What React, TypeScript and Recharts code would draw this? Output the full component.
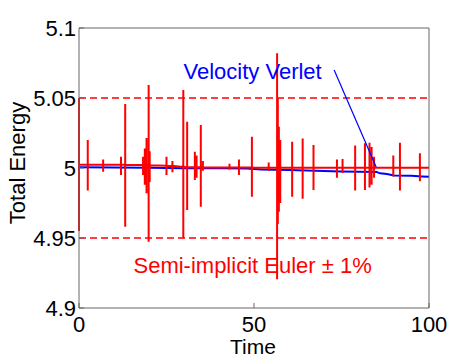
import React from 'react';
import { LineChart, Line, XAxis, YAxis, ReferenceLine, ReferenceDot, Label } from 'recharts';

// Axis ticks
const timeTicks = [0, 50, 100];
const energyTicks = [4.9, 4.95, 5, 5.05, 5.1];
// ±1% band around the initial energy of 5
const bandLimits = [4.95, 5.05];

// Velocity Verlet: slow drift of the total energy
const verletTime = [0, 10, 20, 30, 40, 48, 52, 56, 60, 65, 70, 75, 80, 85, 86, 88, 90, 95, 98, 100];
const verletEnergy = [5.0005, 5.0003, 5.0001, 4.9999, 4.9998, 4.9996, 4.9990, 4.9987, 4.9985, 4.9982, 4.9978, 4.9975, 4.9974, 4.9972, 4.9962, 4.9957, 4.9947, 4.9944, 4.9940, 4.9938];

// Semi-implicit Euler: energy bursts (time, local level, peak, trough)
const eulerSpikeTime = [0, 2.5, 6.9, 12.0, 13.2, 18.3, 18.8, 19.3, 19.9, 20.2, 25.0, 26.7, 29.8, 30.9, 33.1, 33.6, 34.8, 35.4, 43.0, 45.7, 49.4, 54.2, 56.6, 56.8, 57.1, 57.5, 60.9, 63.9, 67.0, 73.7, 75.3, 78.9, 81.7, 83.0, 83.6, 84.3, 89.8, 91.7, 97.4];
const eulerSpikeLevel = [5.0023, 5.0023, 5.0023, 5.0023, 5.0023, 5.0022, 5.0022, 5.0021, 5.002, 5.002, 5.0016, 5.0015, 5.0008, 5.0006, 5.0005, 5.0005, 5.0005, 5.0005, 5.0004, 5.0004, 5.0003, 5.0002, 5.0002, 5.0002, 5.0002, 5.0002, 5.0002, 5.0002, 5.0002, 5.0002, 5.0002, 5.0002, 5.0002, 5.0002, 5.0002, 5.0002, 5.0002, 5.0002, 5.0002];
const eulerSpikeHigh = [5.05, 5.02, 5.006, 5.008, 5.0457, 5.008, 5.014, 5.0214, 5.0593, 5.012, 5.008, 5.005, 5.0557, 5.033, 5.0116, 5.009, 5.0307, 5.005, 5.003, 5.006, 5.0224, 5.004, 5.082, 5.05, 5.0295, 5.02, 5.0188, 5.021, 5.0164, 5.006, 5.0065, 5.016, 5.0176, 5.018, 5.015, 5.008, 5.009, 5.018, 5.0105];
const eulerSpikeLow = [4.955, 4.984, 4.9974, 4.995, 4.958, 4.995, 4.988, 4.982, 4.9474, 4.99, 4.995, 4.997, 4.9498, 4.97, 4.9914, 4.993, 4.9724, 4.998, 4.999, 4.995, 4.9795, 4.998, 4.9205, 4.96, 4.9688, 4.975, 4.9795, 4.978, 4.9843, 4.993, 4.9965, 4.984, 4.9843, 4.986, 4.988, 4.993, 4.994, 4.984, 4.9905];
const eulerEndTime = 100;
const eulerEndLevel = 5.0002;

const verletRows = verletTime.map((t, i) => ({ t, e: verletEnergy[i] }));

const eulerRows: { t: number; e: number }[] = [];
eulerSpikeTime.forEach((t, i) => {
  eulerRows.push({ t, e: eulerSpikeLevel[i] });
  eulerRows.push({ t, e: eulerSpikeHigh[i] });
  eulerRows.push({ t, e: eulerSpikeLow[i] });
  eulerRows.push({ t, e: eulerSpikeLevel[i] });
});
eulerRows.push({ t: eulerEndTime, e: eulerEndLevel });

const FONT = '"Liberation Sans", Arial, Helvetica, sans-serif';
const AXIS_GRAY = '#666666';

const fmtEnergy = (v: number) => String(Number(v.toFixed(2)));

export default function App() {
  return (
    <div style={{ position: 'absolute', left: 0, top: 0, width: 474, height: 360, background: '#fff' }}>
      <LineChart
        width={474}
        height={360}
        margin={{ top: 27, right: 44, bottom: 12, left: 29 }}
        style={{ fontFamily: FONT }}
      >
        <XAxis
          dataKey="t"
          type="number"
          domain={[0, 100]}
          ticks={timeTicks}
          allowDuplicatedCategory={false}
          height={40}
          stroke={AXIS_GRAY}
          tickSize={-5}
          tickMargin={13}
          tick={{ fontSize: 22, fill: '#000', fontFamily: FONT }}
        >
          <Label
            content={() => (
              <text x={253} y={354} textAnchor="middle" fontSize={21} fill="#000" fontFamily={FONT}>
                Time
              </text>
            )}
          />
        </XAxis>
        <XAxis
          xAxisId="top"
          orientation="top"
          dataKey="t"
          type="number"
          domain={[0, 100]}
          ticks={timeTicks}
          height={1}
          stroke={AXIS_GRAY}
          tickSize={-5}
          tick={false}
        />
        <YAxis
          type="number"
          domain={[4.9, 5.1]}
          ticks={energyTicks}
          allowDataOverflow
          width={50}
          stroke={AXIS_GRAY}
          tickSize={-5}
          tickMargin={8}
          tickFormatter={fmtEnergy}
          tick={{ fontSize: 22, fill: '#000', fontFamily: FONT }}
        >
          <Label
            content={() => (
              <text
                x={25}
                y={163}
                textAnchor="middle"
                fontSize={22}
                fill="#000"
                fontFamily={FONT}
                transform="rotate(-90, 25, 163)"
              >
                Total Energy
              </text>
            )}
          />
        </YAxis>
        <YAxis
          yAxisId="right"
          orientation="right"
          type="number"
          domain={[4.9, 5.1]}
          ticks={energyTicks}
          width={1}
          stroke={AXIS_GRAY}
          tickSize={-5}
          tick={false}
        />

        {bandLimits.map((v) => (
          <ReferenceLine key={v} y={v} stroke="#ff0000" strokeWidth={1.5} strokeDasharray="7 4" />
        ))}

        <Line
          data={verletRows}
          dataKey="e"
          type="linear"
          stroke="#0000ff"
          strokeWidth={2}
          dot={false}
          isAnimationActive={false}
        />
        <Line
          data={eulerRows}
          dataKey="e"
          type="linear"
          stroke="#ff0000"
          strokeWidth={2}
          dot={false}
          isAnimationActive={false}
        />

        <ReferenceLine
          segment={[{ x: 72.9, y: 5.07 }, { x: 84.9, y: 5.0007 }]}
          stroke="#0000ff"
          strokeWidth={1.2}
        />
        <ReferenceDot x={49.6} y={5.0693} r={0} fill="none" stroke="none">
          <Label
            content={(p: any) => (
              <text
                x={p.viewBox.x + p.viewBox.width / 2}
                y={p.viewBox.y + p.viewBox.height / 2}
                dy="0.35em"
                textAnchor="middle"
                fontSize={22}
                fill="#0000ff"
                fontFamily={FONT}
              >
                Velocity Verlet
              </text>
            )}
          />
        </ReferenceDot>
        <ReferenceDot x={49.6} y={4.9307} r={0} fill="none" stroke="none">
          <Label
            content={(p: any) => (
              <text
                x={p.viewBox.x + p.viewBox.width / 2}
                y={p.viewBox.y + p.viewBox.height / 2}
                dy="0.35em"
                textAnchor="middle"
                fontSize={22}
                fill="#ff0000"
                fontFamily={FONT}
              >
                Semi-implicit Euler ± 1%
              </text>
            )}
          />
        </ReferenceDot>
      </LineChart>
    </div>
  );
}
